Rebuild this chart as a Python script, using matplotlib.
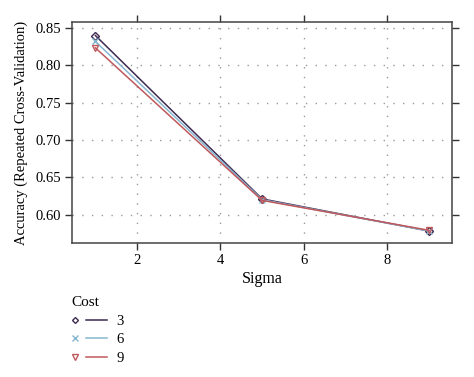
import matplotlib.pyplot as plt
from matplotlib.lines import Line2D
from matplotlib.legend_handler import HandlerBase

sigma = [1, 5, 9]
costs = ["3", "6", "9"]
acc_c3 = [0.840, 0.621, 0.578]
acc_c6 = [0.832, 0.620, 0.578]
acc_c9 = [0.8235, 0.619, 0.579]

colors = ["#3d2a50", "#86b6d0", "#c0585c"]
markers = ["D", "x", "v"]
msizes = [4, 5, 5]


class MarkerThenLine(HandlerBase):
    # lattice-style key: point symbol on the left, line after it
    def create_artists(self, legend, orig, xd, yd, width, height, fontsize, trans):
        y = yd + height / 2
        mk = Line2D([xd + 3], [y], ls="none", marker=orig.get_marker(),
                    ms=orig.get_markersize() - 1, mfc="none",
                    mec=orig.get_color(), mew=1.0, transform=trans)
        ln = Line2D([xd + 11, xd + width], [y, y], color=orig.get_color(),
                    lw=1.1, transform=trans)
        return [mk, ln]


plt.rcParams['font.family'] = ['Liberation Serif', 'DejaVu Serif']
plt.rcParams['font.size'] = 10.5

fig = plt.figure(figsize=(4.74, 3.77), dpi=100)
ax = fig.add_axes([0.152, 0.355, 0.802, 0.587])

lines = []
for vals, c, m, ms in zip([acc_c3, acc_c6, acc_c9], colors, markers, msizes):
    l, = ax.plot(sigma, vals, color=c, lw=1.1, marker=m, ms=ms,
                 mfc="none", mec=c, mew=1.0)
    lines.append(l)

ax.set_xlim(0.44, 9.56)
ax.set_ylim(0.5617, 0.8583)
ax.set_xticks([2, 4, 6, 8])
ax.set_yticks([0.60, 0.65, 0.70, 0.75, 0.80, 0.85])
ax.set_yticklabels(["0.60", "0.65", "0.70", "0.75", "0.80", "0.85"])
ax.tick_params(direction="out", length=5, width=1, top=True, right=True,
               color="#333333", labelsize=10.5, pad=3)
ax.grid(True, color="#999999", ls=(0, (1, 6)), lw=1)
for s in ax.spines.values():
    s.set_color("#444444")
    s.set_linewidth(1.1)

ax.set_xlabel("Sigma", fontsize=11.5, labelpad=3)
ax.set_ylabel("Accuracy (Repeated Cross-Validation)", fontsize=10.5, labelpad=5)

leg = fig.legend(lines, costs, title="Cost", loc="upper left",
                 bbox_to_anchor=(0.122, 0.25), frameon=False,
                 handler_map={Line2D: MarkerThenLine()},
                 handlelength=2.5, handletextpad=0.6, labelspacing=0.38,
                 fontsize=10.5, title_fontsize=11)
leg._legend_box.align = "left"

fig.savefig("out.png", dpi=100)
